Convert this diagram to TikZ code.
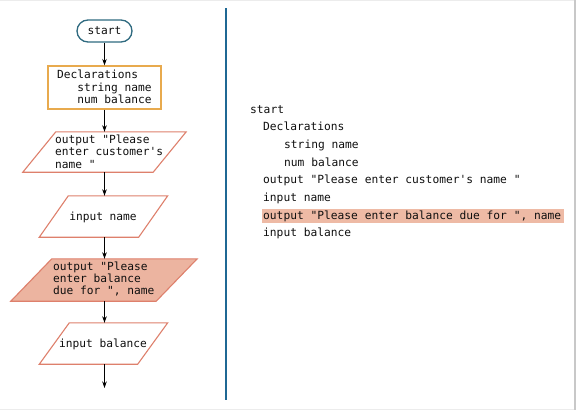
\documentclass[tikz,border=0pt]{standalone}
\usepackage{fontspec}
\newfontfamily\codefont{DejaVu Sans Mono}
\usetikzlibrary{arrows.meta}
\definecolor{txt}{RGB}{15,15,15}
\definecolor{teal}{RGB}{47,106,128}
\definecolor{declc}{RGB}{232,170,78}
\definecolor{parac}{RGB}{222,128,108}
\definecolor{parafill}{RGB}{236,180,160}
\definecolor{hilite}{RGB}{238,186,165}
\definecolor{bluebar}{RGB}{31,104,148}
\definecolor{graybar}{RGB}{200,200,200}
\tikzset{
  lcode/.style={font=\codefont\fontsize{11.2}{12.4}\selectfont, text=txt, inner sep=0pt, align=left},
  rcode/.style={font=\codefont\fontsize{11.25}{14}\selectfont, text=txt, inner sep=0pt, anchor=base west},
  terminal/.style={draw=teal, line width=1.3pt, rounded corners=11pt, minimum width=55pt, minimum height=22pt, inner sep=0pt},
  declbox/.style={draw=declc, line width=1.2pt, minimum width=113pt, minimum height=43pt, inner sep=0pt},
  shapebox/.style={inner sep=0pt, minimum height=#1},
  parastroke/.style={draw=parac, line width=1.1pt},
  flow/.style={draw=black, line width=0.9pt, -{Stealth[length=6.5pt,width=4.5pt]}}
}
\begin{document}
\begin{tikzpicture}[x=1pt,y=-1pt]
\useasboundingbox (0,0) rectangle (576,410);
\fill[white] (0,0) rectangle (576,410);
% page edges
\fill[graybar] (574,0) rectangle (576,410);
\draw[gray!15, line width=0.6pt] (0,0.3) -- (574,0.3);
\draw[gray!15, line width=0.6pt] (0,409.7) -- (574,409.7);
% divider
\draw[bluebar, line width=2pt] (226,8) -- (226,400);

% terminal
\node[terminal] (start) at (104.5,31) {};
\node[lcode, anchor=base] (startt) at (104.5,34) {start};

% declarations
\node[declbox] (decl) at (104.5,87.5) {};
\node[lcode, anchor=west] (declt) at (57,87) {Declarations\\\hspace*{20.2pt}string name\\\hspace*{20.2pt}num balance};

% parallelogram 1
\node[shapebox=40pt, minimum width=163pt] (p1) at (104.5,152) {};
\draw[parastroke] ([xshift=33pt]p1.north west) -- (p1.north east) -- ([xshift=-33pt]p1.south east) -- (p1.south west) -- cycle;
\node[lcode, anchor=west] (p1t) at (55,151.5) {output "Please\\enter customer's\\name "};

% parallelogram 2
\node[shapebox=41pt, minimum width=128pt] (p2) at (103.5,216.5) {};
\draw[parastroke] ([xshift=29pt]p2.north west) -- (p2.north east) -- ([xshift=-29pt]p2.south east) -- (p2.south west) -- cycle;
\node[lcode, anchor=base] (p2t) at (103,220) {input name};

% parallelogram 3 (highlighted)
\node[shapebox=42pt, minimum width=186pt] (p3) at (104,280) {};
\draw[parastroke, fill=parafill] ([xshift=41pt]p3.north west) -- (p3.north east) -- ([xshift=-41pt]p3.south east) -- (p3.south west) -- cycle;
\node[lcode, anchor=west] (p3t) at (53,279) {output "Please\\enter balance\\due for ", name};

% parallelogram 4
\node[shapebox=41pt, minimum width=128pt] (p4) at (103.5,343.5) {};
\draw[parastroke] ([xshift=30pt]p4.north west) -- (p4.north east) -- ([xshift=-30pt]p4.south east) -- (p4.south west) -- cycle;
\node[lcode, anchor=base] (p4t) at (103,347) {input balance};

\coordinate (fend) at (104,388);

% connectors
\draw[flow] (start.south) -- (decl.north -| start.south);
\draw[flow] (decl.south) -- (decl.south |- p1.north);
\draw[flow] (p1.south -| decl.south) -- (p2.north -| decl.south);
\draw[flow] (p2.south -| decl.south) -- (p3.north -| decl.south);
\draw[flow] (p3.south -| decl.south) -- (p4.north -| decl.south);
\draw[flow] (p4.south -| decl.south) -- (fend -| decl.south);

% pseudocode
\fill[hilite] (262,209) rectangle (564,223);
\node[rcode] (c1) at (250,113) {start};
\node[rcode] (c2) at (263,130.7) {Declarations};
\node[rcode] (c3) at (284,148.4) {string name};
\node[rcode] (c4) at (284,166.1) {num balance};
\node[rcode] (c5) at (263,183.8) {output "Please enter customer's name "};
\node[rcode] (c6) at (263,201.5) {input name};
\node[rcode] (c7) at (263,219.2) {output "Please enter balance due for ", name};
\node[rcode] (c8) at (263,236.9) {input balance};
\end{tikzpicture}
\end{document}
